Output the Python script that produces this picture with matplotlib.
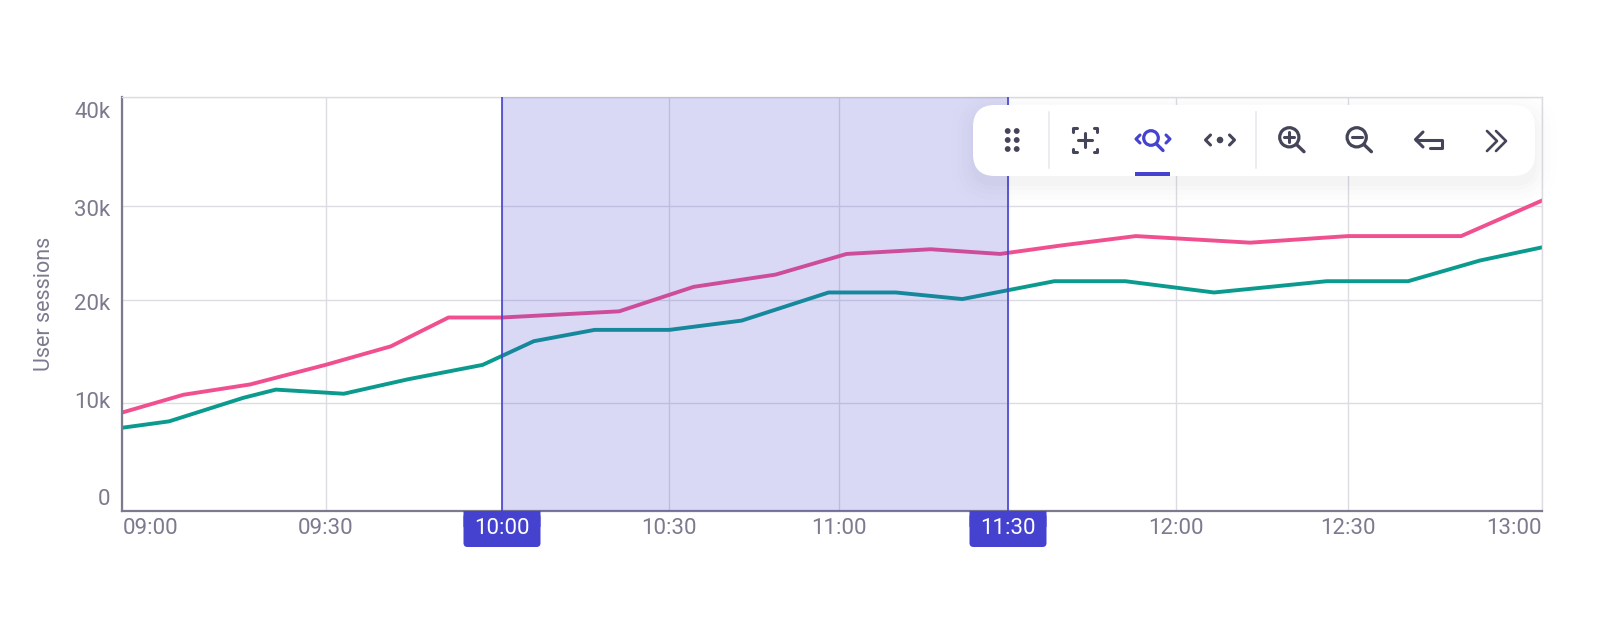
#!/usr/bin/env python3
"""
User sessions over a morning, with a selected time range and a floating chart toolbar.
"""

import numpy as np
import matplotlib
matplotlib.use('Agg')
import matplotlib.pyplot as plt
from matplotlib.patches import FancyBboxPatch, Circle, Rectangle

# minutes after 09:00
pink_t = [0, 9.1, 18.9, 30, 41.1, 50.9, 60, 81, 94.3, 108.8, 121.4, 136.3, 148.6,
          159.5, 172.9, 193, 210, 227.5, 240]
pink_v = [9.1, 10.8, 11.8, 13.7, 15.5, 18.3, 18.3, 18.9, 21.4, 22.7, 24.9, 25.4, 24.9,
          25.8, 26.8, 26.1, 26.8, 26.8, 30.5]
teal_t = [0, 7, 17.9, 22.7, 33.1, 44, 56.7, 65.7, 76.6, 90, 102.8, 118.2, 130.1, 141.9,
          158.3, 171, 186.7, 206.3, 219.3, 230.4, 240]
teal_v = [7.7, 8.3, 10.5, 11.3, 10.9, 12.3, 13.7, 16.0, 17.1, 17.1, 18.0, 20.8, 20.8, 20.1,
          22.0, 22.0, 20.8, 22.0, 22.0, 24.2, 25.6]

time_ticks = [0, 30, 60, 90, 120, 150, 180, 210, 240]
time_labels = ['09:00', '09:30', '10:00', '10:30', '11:00', '11:30', '12:00', '12:30', '13:00']
value_ticks = [0, 10, 20, 30, 40]
value_labels = ['0', '10k', '20k', '30k', '40k']
selection = [60, 150]

# the axes in the picture are not evenly spaced, so warp them
time_pos = [0, 204, 380.5, 547.9, 717.3, 886.5, 1054, 1226.5, 1420.5]
value_pos = [0, 108, 211, 305, 414]

GRAY = '#7b7a8e'
GRID = '#dcdce2'
BLUE = '#4542d0'
DARK = '#45455a'
PINK = '#f0508f'
TEAL = '#0a9b8e'

plt.rcParams['font.family'] = ['Roboto', 'DejaVu Sans']

fig = plt.figure(figsize=(16, 6.38), dpi=100)
ax = fig.add_axes([121.5 / 1600, (638 - 511) / 638, 1420.5 / 1600, 414 / 638])

ax.set_xscale('function', functions=(lambda x: np.interp(x, time_ticks, time_pos),
                                     lambda x: np.interp(x, time_pos, time_ticks)))
ax.set_yscale('function', functions=(lambda y: np.interp(y, value_ticks, value_pos),
                                     lambda y: np.interp(y, value_pos, value_ticks)))
ax.set_xlim(0, 240)
ax.set_ylim(0, 40)
ax.set_xticks(time_ticks)
ax.set_yticks(value_ticks)
ax.minorticks_off()
ax.set_xticklabels([])
ax.set_yticklabels([])
ax.tick_params(length=0)
ax.grid(True, color=GRID, linewidth=1.0, zorder=0)
ax.set_axisbelow(True)

for side in ['left', 'bottom']:
    ax.spines[side].set_color(GRAY)
    ax.spines[side].set_linewidth(1.6)
for side in ['top', 'right']:
    ax.spines[side].set_color(GRID)
    ax.spines[side].set_linewidth(1.0)

ax.plot(pink_t, pink_v, color=PINK, linewidth=2.8, zorder=2, solid_joinstyle='round')
ax.plot(teal_t, teal_v, color=TEAL, linewidth=2.8, zorder=2, solid_joinstyle='round')

ax.axvspan(selection[0], selection[1], facecolor=BLUE, alpha=0.2, linewidth=0, zorder=3)
for t in selection:
    ax.axvline(t, color=BLUE, linewidth=1.2, zorder=4)

# overlay in image pixels for the outside labels, badges and toolbar
ov = fig.add_axes([0, 0, 1, 1], zorder=5)
ov.set_xlim(0, 1600)
ov.set_ylim(638, 0)
ov.axis('off')
ov.patch.set_alpha(0)

for label, y in zip(value_labels, [499.5, 403, 304, 210, 112]):
    ov.text(110.5, y, label, color=GRAY, fontsize=16, ha='right', va='center')
ov.text(45, 304, 'User sessions', color=GRAY, fontsize=15.5, rotation=90, ha='center', va='center')

tick_px = [121.5 + p for p in time_pos]
for t, label, x in zip(time_ticks, time_labels, tick_px):
    if t in selection:
        # square top, rounded bottom
        ov.add_patch(Rectangle((x - 38.5, 511), 77, 16, facecolor=BLUE, edgecolor='none', snap=False))
        ov.add_patch(FancyBboxPatch((x - 38.5, 513), 77, 34, boxstyle='round,pad=0,rounding_size=4',
                                    facecolor=BLUE, edgecolor='none', snap=False))
        ov.text(x, 529, label, color='white', fontsize=16, ha='center', va='center')
    elif t == 0:
        ov.text(123, 529, label, color=GRAY, fontsize=16, ha='left', va='center')
    elif t == 240:
        ov.text(1542, 529, label, color=GRAY, fontsize=16, ha='right', va='center')
    else:
        ov.text(x, 529, label, color=GRAY, fontsize=16, ha='center', va='center')

# toolbar shadow, then the card
for grow, alpha in zip([22, 16, 11, 6, 2], [0.004, 0.006, 0.008, 0.01, 0.014]):
    ov.add_patch(FancyBboxPatch((973 - grow, 105 + 8 - grow), 562 + 2 * grow, 71 + 2 * grow,
                                boxstyle='round,pad=0,rounding_size=%d' % (22 + grow),
                                facecolor='#3c3c64', edgecolor='none', alpha=alpha))
ov.add_patch(FancyBboxPatch((973, 105), 562, 71, boxstyle='round,pad=0,rounding_size=22',
                            facecolor='white', edgecolor='none'))

for x in [1048.7, 1256]:
    ov.plot([x, x], [112, 168], color='#e6e6ec', linewidth=1.1)


def stroke(xs, ys, color=DARK, lw=2.2):
    ov.plot(xs, ys, color=color, linewidth=lw, solid_capstyle='round', solid_joinstyle='round')


# grip
for x in [1007.7, 1016.7]:
    for y in [131, 140, 149]:
        ov.add_patch(Circle((x, y), 2.9, facecolor=DARK, edgecolor='none'))

# focus frame
cx, cy, r = 1085, 140, 12
for sx in [-1, 1]:
    for sy in [-1, 1]:
        stroke([cx + sx * r, cx + sx * r, cx + sx * (r - 3.5)],
               [cy + sy * (r - 3.5), cy + sy * r, cy + sy * r])
stroke([cx - 7, cx + 7], [cy, cy])
stroke([cx, cx], [cy - 7, cy + 7])

# active lens tool
ov.add_patch(Circle((1151, 138), 7.3, facecolor='none', edgecolor=BLUE, linewidth=2.3))
stroke([1156.5, 1163], [144, 150.5], color=BLUE, lw=2.4)
stroke([1140, 1136, 1140], [135, 139, 143], color=BLUE, lw=2.2)
stroke([1166, 1170, 1166], [135, 139, 143], color=BLUE, lw=2.2)
ov.add_patch(Rectangle((1134.7, 172), 35.3, 4, facecolor=BLUE, edgecolor='none'))

# pan
stroke([1210.5, 1205.5, 1210.5], [135, 140, 145])
stroke([1229.5, 1234.5, 1229.5], [135, 140, 145])
ov.add_patch(Circle((1220, 140), 3.3, facecolor=DARK, edgecolor='none'))

# zoom in and out
for cx in [1289.3, 1356.7]:
    ov.add_patch(Circle((cx, 137.3), 9.6, facecolor='none', edgecolor=DARK, linewidth=2.3))
    stroke([cx + 7.2, cx + 14.7], [144.5, 151.7], lw=2.4)
    stroke([cx - 5, cx + 5], [137.3, 137.3])
stroke([1289.3, 1289.3], [132.3, 142.3])

# back arrow
stroke([1423, 1415.5, 1423], [132, 139.5, 147])
stroke([1415.5, 1441.5, 1441.5, 1430], [139.5, 139.5, 148.3, 148.3])

# collapse
stroke([1487, 1497, 1487], [131, 141, 151], lw=1.9)
stroke([1496, 1506, 1496], [131, 141, 151], lw=1.9)

plt.savefig('out.png', dpi=100)
plt.close()
